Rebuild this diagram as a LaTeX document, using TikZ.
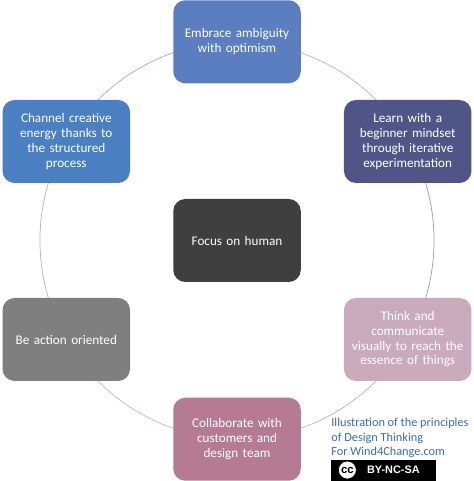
\documentclass[tikz,border=0pt]{standalone}
\usepackage{fontspec}
\setmainfont{Carlito}
\newfontfamily\badgefont{Liberation Sans}
\usepackage{xcolor}
\usetikzlibrary{positioning,backgrounds}
\definecolor{embraceblue}{HTML}{5B7EC1}
\definecolor{learnblue}{HTML}{4F5587}
\definecolor{channelblue}{HTML}{4A80C2}
\definecolor{thinkpink}{HTML}{C9ABBC}
\definecolor{teampink}{HTML}{B57B90}
\definecolor{actiongray}{HTML}{7F7F7F}
\definecolor{focusgray}{HTML}{3F3F3F}
\definecolor{notecolor}{HTML}{3A6DB0}

\begin{document}
\begin{tikzpicture}[
      font=\fontsize{7.5}{8.35}\selectfont,
      box/.style={rounded corners=0.24cm, minimum height=1.66cm, minimum width=2.55cm, align=center, text width=2.4cm, inner sep=0pt, text=white},
      ring/.style={bend left=30, looseness=0.91, line width=0.4pt}
    ]
    \useasboundingbox (-4.74,-4.81) rectangle (4.74,4.81);

    \node[box, fill=focusgray]                                    (focus)   {Focus on human};
    \node[box, fill=embraceblue, above=2.3cm of focus]            (embrace) {Embrace ambiguity\\with optimism};
    \node[box, fill=teampink, below=2.3cm of focus]               (team)    {Collaborate with\\customers and\\design team};
    \node[box, fill=learnblue, right=0.85cm of focus, yshift=1.98cm]    (learn)   {Learn with a\\beginner mindset\\through iterative\\experimentation};
    \node[box, fill=thinkpink, right=0.85cm of focus, yshift=-1.98cm]   (think)   {Think and\\communicate\\visually to reach the\\essence of things};
    \node[box, fill=actiongray, left=0.85cm of focus, yshift=-1.98cm]   (action)  {Be action oriented};
    \node[box, fill=channelblue, left=0.85cm of focus, yshift=1.98cm]   (channel) {Channel creative\\energy thanks to\\the structured\\process};

    % ring
    \begin{scope}[on background layer]
      \draw[ring, color=embraceblue!55] (embrace.center) to (learn.center);
      \draw[ring, color=learnblue!60]   (learn.center) to (think.center);
      \draw[ring, color=thinkpink]      (think.center) to (team.center);
      \draw[ring, color=teampink!60]    (team.center) to (action.center);
      \draw[ring, color=actiongray!60]  (action.center) to (channel.center);
      \draw[ring, color=channelblue!60] (channel.center) to (embrace.center);
    \end{scope}

    % credit
    \node[anchor=north west, inner sep=0pt, align=left, text=notecolor, font=\fontsize{7}{8.2}\selectfont] (note) at (1.88,-3.55) {Illustration of the principles\\of Design Thinking\\For Wind4Change.com};
    \node[fill=black, text=white, minimum width=2.1cm, minimum height=0.42cm, inner sep=0pt, font=\fontsize{6.2}{7}\badgefont\bfseries, below=0.02cm of note.south west, anchor=north west, align=right] (badge) {\hspace*{0.38cm}BY-NC-SA};
    \node[circle, draw=black, fill=white, minimum size=0.36cm, inner sep=0pt, font=\fontsize{6.5}{7}\badgefont\bfseries, text=black, right=0.14cm of badge.west] (cc) {cc};
  \end{tikzpicture}
\end{document}
